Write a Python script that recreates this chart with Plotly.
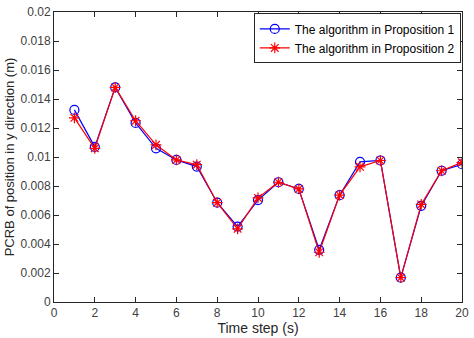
import plotly.graph_objects as go

time_steps = list(range(1, 21))
prop1 = [0.01325, 0.0107, 0.0148, 0.01235, 0.0106, 0.0098, 0.00934, 0.00685, 0.0052, 0.00703,
         0.00826, 0.0078, 0.0036, 0.00737, 0.00966, 0.00976, 0.00168, 0.00663, 0.00905, 0.0095]
prop2 = [0.0127, 0.0106, 0.0148, 0.0125, 0.01084, 0.0098, 0.00947, 0.00685, 0.00505, 0.00718,
         0.00826, 0.0078, 0.00343, 0.00737, 0.00932, 0.00976, 0.00168, 0.00673, 0.00905, 0.00963]
x_ticks = list(range(0, 21, 2))
y_ticks = [0, 0.002, 0.004, 0.006, 0.008, 0.01, 0.012, 0.014, 0.016, 0.018, 0.02]
y_tick_text = ["0", "0.002", "0.004", "0.006", "0.008", "0.01", "0.012", "0.014", "0.016", "0.018", "0.02"]

FONT = "Liberation Sans, Arial"
fig = go.Figure()
fig.add_trace(go.Scatter(x=time_steps, y=prop1, mode="lines+markers",
                         name="The algorithm in Proposition 1",
                         line=dict(color="#0000ff", width=1.2),
                         marker=dict(symbol="circle-open", size=9, color="#0000ff", line=dict(width=1.2))))
fig.add_trace(go.Scatter(x=time_steps, y=prop2, mode="lines+markers",
                         name="The algorithm in Proposition 2",
                         line=dict(color="#ff0000", width=1.2),
                         marker=dict(symbol="asterisk-open", size=9, color="#ff0000", line=dict(width=1.2, color="#ff0000"))))

axis_common = dict(showline=True, linecolor="#262626", linewidth=1, mirror="ticks",
                   ticks="inside", ticklen=5, tickcolor="#262626", showgrid=False, zeroline=False,
                   ticklabeloverflow="allow",
                   tickfont=dict(family=FONT, size=12, color="#404040"))
fig.update_xaxes(range=[0, 20], tickvals=x_ticks, title=dict(text="Time step (s)", standoff=3,
                 font=dict(family=FONT, size=14, color="#262626")), **axis_common)
fig.update_yaxes(range=[0, 0.02], tickvals=y_ticks, ticktext=y_tick_text,
                 title=dict(text="PCRB of position in y direction (m)", standoff=3,
                            font=dict(family=FONT, size=13, color="#262626")), **axis_common)
fig.update_layout(width=474, height=338, plot_bgcolor="white", paper_bgcolor="white",
                  margin=dict(l=54, r=7, t=5, b=36),
                  legend=dict(x=0.997, y=0.995, xanchor="right", yanchor="top", bgcolor="white",
                              bordercolor="#262626", borderwidth=1, tracegroupgap=0,
                              font=dict(family=FONT, size=12, color="#000000"),
                              itemwidth=30))
fig.write_html("out.html")
